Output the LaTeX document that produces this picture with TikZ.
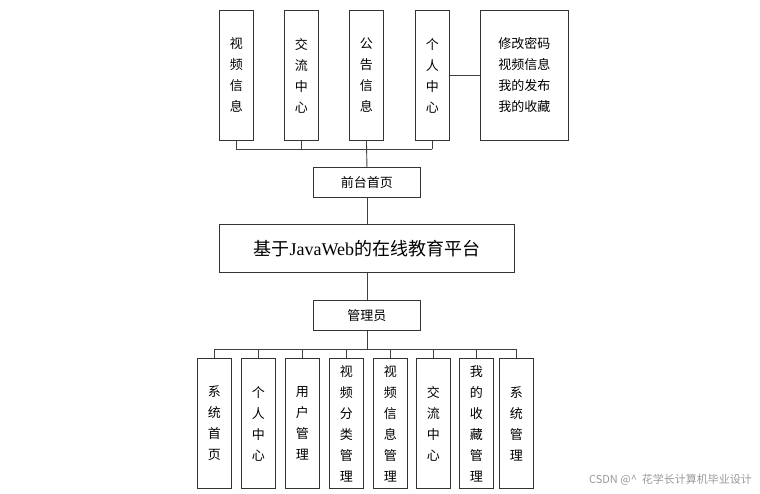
\documentclass[tikz,border=0pt]{standalone}
\usepackage{fontspec}
\setmainfont{Noto Sans CJK SC}
\newfontfamily\cjk{Noto Sans CJK SC}
\newfontfamily\serifj{Liberation Serif}
\begin{document}
\begin{tikzpicture}[x=1pt,y=-1pt,
 bx/.style={draw=black!80,line width=0.9pt,fill=white,inner sep=0pt,font=\fontsize{13}{21}\selectfont,align=center},
 ln/.style={draw=black!75,line width=0.9pt}]
\useasboundingbox (0,0) rectangle (760,494);
% top row
\foreach \n/\x/\t in {t1/219/视\\频\\信\\息, t2/284/交\\流\\中\\心, t3/349/公\\告\\信\\息, t4/415/个\\人\\中\\心}{
  \node[bx,minimum width=34pt,minimum height=130pt,anchor=north west] (\n) at (\x,10) {\t};}
\node[bx,minimum width=88pt,minimum height=130pt,anchor=north west] (t5) at (480,10) {修改密码\\视频信息\\我的发布\\我的收藏};
\node[bx,minimum width=107pt,minimum height=30pt,anchor=north west] (qt) at (313,167) {前台首页};
\node[bx,minimum width=295pt,minimum height=48pt,anchor=north west,font=\fontsize{18}{20}\selectfont] (main) at (219,224) {基于{\serifj JavaWeb}的在线教育平台};
\node[bx,minimum width=107pt,minimum height=30pt,anchor=north west] (gl) at (313,300) {管理员};
\coordinate (tb) at (0,149);
\foreach \n in {t1,t2,t3,t4}{\draw[ln] (\n.south) -- (\n.south |- tb);}
\draw[ln] (t1.south |- tb) -- (t4.south |- tb);
\draw[ln] (t3.south) -- (qt.north);
\draw[ln] (t4.east |- 0,75) -- (t5.west |- 0,75);
\draw[ln] (qt.south) -- (main.north);
\draw[ln] (main.south) -- (gl.north);
% bottom row
\coordinate (bb) at (0,349);
\foreach \n/\x/\t in {b1/197/系\\统\\首\\页, b2/241/个\\人\\中\\心, b3/285/用\\户\\管\\理, b4/329/视\\频\\分\\类\\管\\理, b5/373/视\\频\\信\\息\\管\\理, b6/416/交\\流\\中\\心, b7/459/我\\的\\收\\藏\\管\\理, b8/499/系\\统\\管\\理}{
  \node[bx,minimum width=34pt,minimum height=130pt,anchor=north west] (\n) at (\x,358) {\t};
  \draw[ln] (\n.north) -- (\n.north |- bb);}
\draw[ln] (b1.north |- bb) -- (b8.north |- bb);
\draw[ln] (gl.south) -- (gl.south |- bb);
\node[anchor=east,text=black!40,font=\fontsize{11}{12}\selectfont,inner sep=0pt] (wm) at (752,480) {CSDN @\textasciicircum\ \ 花学长计算机毕业设计};
\end{tikzpicture}
\end{document}
